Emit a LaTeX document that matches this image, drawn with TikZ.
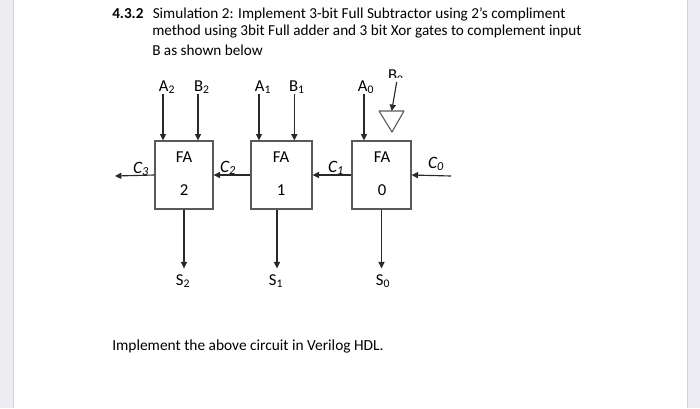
\documentclass[tikz,border=0pt]{standalone}
\usepackage{fontspec}
\setmainfont{Carlito}
\usetikzlibrary{arrows.meta, positioning}
\definecolor{boxgray}{rgb}{0.35,0.35,0.35}
\definecolor{wiregray}{rgb}{0.16,0.16,0.16}
\definecolor{pagegray}{rgb}{0.925,0.925,0.95}
\tikzset{
  fabox/.style={draw=boxgray,line width=0.9pt,fill=white,inner sep=0pt},
  wire/.style={draw=wiregray,line width=0.85pt,-{Triangle[length=4.8pt,width=4.6pt]}},
  sigtext/.style={inner sep=0pt,font=\fontsize{12.5}{14}\selectfont},
  outtext/.style={sigtext,outer ysep=4.5pt},
  carrytext/.style={inner sep=0pt,font=\fontsize{13}{14}\selectfont\itshape},
  bodytext/.style={inner sep=0pt,anchor=west,font=\fontsize{11.4}{13}\selectfont},
}
\begin{document}
\begin{tikzpicture}[x=0.75pt,y=0.75pt,yscale=-1,xscale=1]
\useasboundingbox (0,0) rectangle (700,408);
% page
\fill[pagegray] (0,0) rectangle (700,408);
\fill[white] (13,0) rectangle (687,408);
\draw[black!18,line width=0.6pt] (13,0) -- (13,408) (687,0) -- (687,408);

% Text
\node[bodytext] (headnum) at (112,14) {\textbf{4.3.2}};
\node[bodytext] (heada) at (152.5,14) {Simulation 2: Implement 3-bit Full Subtractor using 2's compliment};
\node[bodytext] (headb) at (152,32) {method using 3bit Full adder and 3 bit Xor gates to complement input};
\node[bodytext] (headc) at (152,50) {B as shown below};
\node[bodytext,font=\fontsize{11.55}{13}\selectfont] (tailtext) at (112,346) {Implement the above circuit in Verilog HDL.};

% Adders
\node[fabox,minimum width=43.5pt,minimum height=51pt] (fa2) at (184,175) {};
\node[fabox,minimum width=45.75pt,minimum height=51pt] (fa1) at (281.5,175) {};
\node[fabox,minimum width=44.25pt,minimum height=51pt] (fa0) at (381.5,175) {};
\foreach \n/\x/\k in {fa2/184/2,fa1/281/1,fa0/382/0}{
  \node[sigtext] (\n name) at (\x,157) {FA};
  \node[sigtext] (\n num) at (\x,190) {\k};
}

% Inputs
\node[sigtext] (a2) at (167,87) {A\textsubscript{2}};
\node[sigtext] (b2) at (202,87) {B\textsubscript{2}};
\node[sigtext] (a1) at (263,87) {A\textsubscript{1}};
\node[sigtext] (b1) at (297,87) {B\textsubscript{1}};
\node[sigtext] (a0) at (366,87) {A\textsubscript{0}};
\node[sigtext,anchor=north] (b0) at (396,70) {B\textsubscript{0}};
\fill[white] (385,78) rectangle (410,92);

% Outputs
\node[outtext] (s2) at (183,281) {S\textsubscript{2}};
\node[outtext] (s1) at (276,281) {S\textsubscript{1}};
\node[outtext] (s0) at (383,281) {S\textsubscript{0}};

% Carries
\coordinate (c3end) at (115,176);
\coordinate (c0start) at (451,176);
\node[carrytext] (c3) at (141,169) {C\textsubscript{3}};
\node[carrytext] (c2) at (228,168) {C\textsubscript{2}};
\node[carrytext] (c1) at (336,168) {C\textsubscript{1}};
\node[carrytext] (c0) at (436,164) {C\textsubscript{0}};

% Inverter
\coordinate (binv) at (396.7,82);
\coordinate (invl) at (379,111);
\coordinate (invr) at (404,111);
\coordinate (invt) at (392,132);
\coordinate (invin) at (391.7,111);
\draw[boxgray,line width=0.8pt,line join=round] (invl) -- (invr) -- (invt) -- cycle;
\draw[wire] (binv) -- (invin);

% Connectors
\draw[wire] ([xshift=-3pt]a2.south) -- ([xshift=-3pt]a2.south |- fa2.north);
\draw[wire] ([xshift=-3pt]b2.south) -- ([xshift=-3pt]b2.south |- fa2.north);
\draw[wire] ([xshift=-3pt]a1.south) -- ([xshift=-3pt]a1.south |- fa1.north);
\draw[wire] ([xshift=-2pt]b1.south) -- ([xshift=-2pt]b1.south |- fa1.north);
\draw[wire] ([xshift=-1.5pt]a0.south) -- ([xshift=-1.5pt]a0.south |- fa0.north);
\draw[wire] (fa2.south) -- (fa2.south |- s2.north);
\draw[wire] ([xshift=-3.4pt]fa1.south) -- ([xshift=-3.4pt]fa1.south |- s1.north);
\draw[wire] (fa0.south) -- (fa0.south |- s0.north);
\draw[wire] (fa2.west) -- (c3end);
\draw[wire] (fa1.west) -- (fa2.east);
\draw[wire] (fa0.west) -- (fa1.east);
\draw[wire] (c0start) -- (fa0.east);
\end{tikzpicture}
\end{document}
